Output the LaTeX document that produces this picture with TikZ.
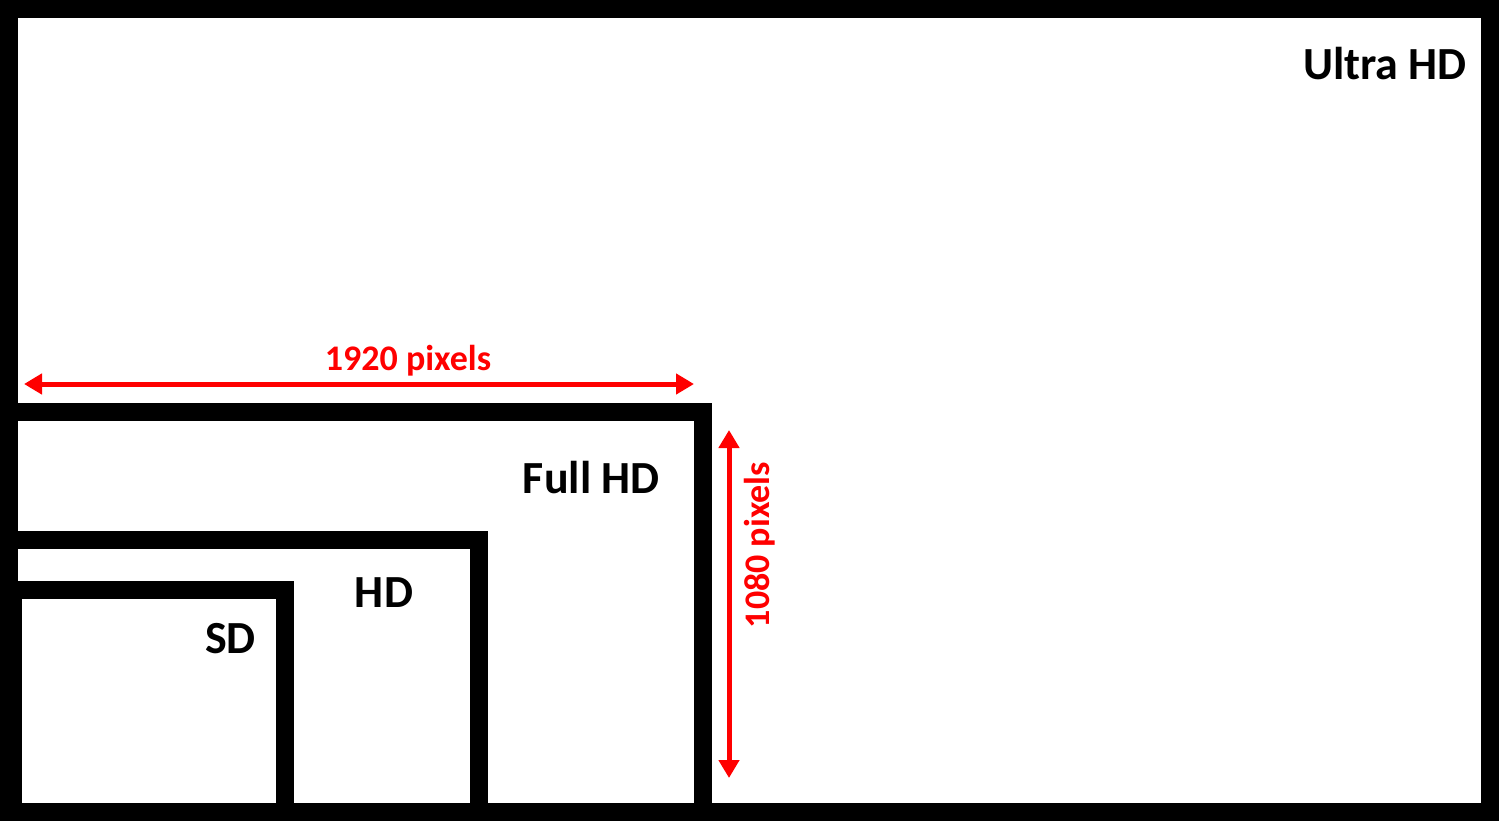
\documentclass[tikz,border=0pt]{standalone}
\usepackage{fontspec}
\setmainfont{Carlito}
\usetikzlibrary{arrows.meta}
\begin{document}
\begin{tikzpicture}[x=1pt,y=-1pt,
  frame/.style={draw=black,line width=18pt},
  lbl/.style={font=\fontsize{46}{50}\selectfont\bfseries,inner sep=0pt},
  red lbl/.style={font=\fontsize{36}{40}\selectfont\bfseries,text=red,inner sep=0pt},
  dim/.style={draw=red,line width=5pt,{Triangle[length=18pt,width=20pt]}-{Triangle[length=18pt,width=20pt]}}]
\useasboundingbox (0,0) rectangle (1501,821);
\fill[white] (0,0) rectangle (1501,821);
\draw[frame] (9,9) rectangle (1490,812);
\draw[frame] (9,412) -- (703,412) -- (703,812);
\draw[frame] (9,540) -- (479,540) -- (479,812);
\draw[frame] (13,812) -- (13,590) -- (285,590) -- (285,812);
\node[lbl,anchor=base east] (uhd) at (1467,80) {Ultra HD};
\node[lbl,anchor=base east] (fhd) at (660,493) {Full HD};
\node[lbl,anchor=base] (hd) at (384,607) {HD};
\node[lbl,anchor=base east] (sd) at (256,653) {SD};
\coordinate (h1) at (24,384);
\coordinate (h2) at (694,384);
\coordinate (v1) at (729,430);
\coordinate (v2) at (729,778);
\draw[dim] (h1) -- (h2);
\draw[dim] (v1) -- (v2);
\node[red lbl,anchor=base] (wl) at (408,370) {1920 pixels};
\node[red lbl,anchor=base,rotate=90] (hl) at (769,545) {1080 pixels};
\end{tikzpicture}
\end{document}
